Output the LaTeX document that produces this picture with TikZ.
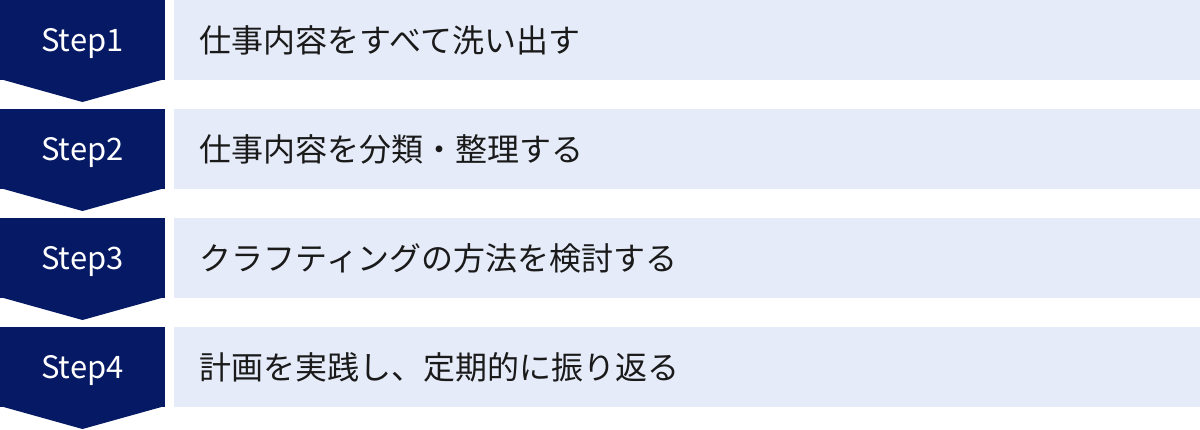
\documentclass[tikz,border=0pt]{standalone}
\usepackage{fontspec}
\setmainfont{Noto Sans CJK JP}
\usetikzlibrary{positioning}

\definecolor{stepnavy}{HTML}{061964}
\definecolor{boxblue}{HTML}{E5EBF8}
\definecolor{textdark}{HTML}{1A1A1A}

\tikzset{
	stepbox/.style={fill=stepnavy, text=white, minimum width=1.65cm, minimum height=0.8cm, inner sep=0pt, outer sep=0pt, text depth=0pt, font=\fontsize{8.8}{10}\selectfont},
	taskbox/.style={fill=boxblue, text=textdark, text width=9.74cm, inner xsep=0.26cm, inner ysep=0pt, outer sep=0pt, minimum height=0.8cm, align=left, font=\fontsize{9.1}{10}\selectfont},
	tip/.style={fill=stepnavy}
}

\begin{document}
\begin{tikzpicture}[node distance=0.29cm]

	\useasboundingbox (0,0) rectangle (12,-4.29);

	% node definitions
	\node[stepbox] (step1) at (0.825,-0.4) {Step1};
	\node[stepbox, below=of step1] (step2) {Step2};
	\node[stepbox, below=of step2] (step3) {Step3};
	\node[stepbox, below=of step3] (step4) {Step4};

	\node[taskbox, right=0.09cm of step1] (task1) {仕事内容をすべて洗い出す};
	\node[taskbox, right=0.09cm of step2] (task2) {仕事内容を分類・整理する};
	\node[taskbox, right=0.09cm of step3] (task3) {クラフティングの方法を検討する};
	\node[taskbox, right=0.09cm of step4] (task4) {計画を実践し、定期的に振り返る};

	% arrow tips
	\fill[tip] ([yshift=0.01cm]step1.south west) -- ([yshift=0.01cm]step1.south east) -- ([yshift=-0.22cm]step1.south) -- cycle;
	\fill[tip] ([yshift=0.01cm]step2.south west) -- ([yshift=0.01cm]step2.south east) -- ([yshift=-0.22cm]step2.south) -- cycle;
	\fill[tip] ([yshift=0.01cm]step3.south west) -- ([yshift=0.01cm]step3.south east) -- ([yshift=-0.22cm]step3.south) -- cycle;
	\fill[tip] ([yshift=0.01cm]step4.south west) -- ([yshift=0.01cm]step4.south east) -- ([yshift=-0.22cm]step4.south) -- cycle;

\end{tikzpicture}
\end{document}
